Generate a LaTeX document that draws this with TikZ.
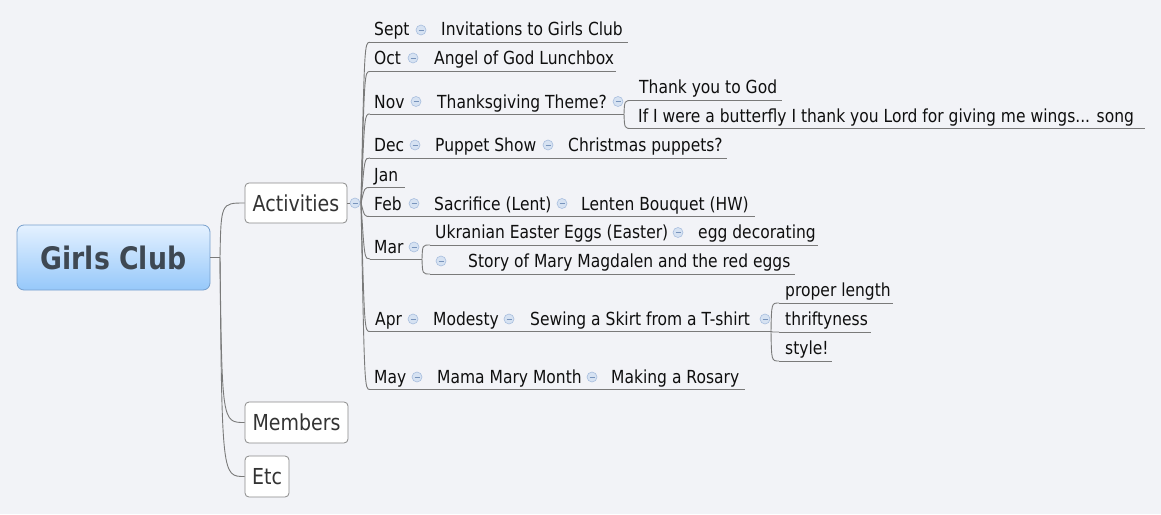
\documentclass[tikz,border=0pt]{standalone}
\usepackage{fontspec}
\setmainfont{DejaVu Sans}[FakeStretch=0.862]
\definecolor{bgc}{RGB}{242,243,247}
\definecolor{linec}{RGB}{122,122,122}
\definecolor{textc}{RGB}{15,15,15}
\definecolor{roottext}{RGB}{62,72,82}
\definecolor{rootborder}{RGB}{120,160,205}
\definecolor{roottop}{RGB}{228,241,255}
\definecolor{rootbot}{RGB}{150,200,250}
\definecolor{boxborder}{RGB}{138,138,138}
\definecolor{icof}{RGB}{214,226,242}
\definecolor{icob}{RGB}{168,190,222}
\definecolor{icom}{RGB}{120,148,188}
\begin{document}
\begin{tikzpicture}[x=1pt,y=-1pt,
  txt/.style={font=\fontsize{18}{21}\selectfont, text=textc, inner sep=0pt, anchor=base west},
  ul/.style={draw=linec, line width=0.9pt},
  conn/.style={draw=linec, line width=0.9pt},
  lvlone/.style={draw=boxborder, fill=white, line width=0.8pt, rounded corners=4pt, inner sep=0pt,
    font=\fontsize{22}{25}\selectfont, text=textc!85!white, minimum height=40pt},
  rootbox/.style={draw=rootborder, line width=0.8pt, rounded corners=7pt, top color=roottop, bottom color=rootbot,
    minimum width=193pt, minimum height=65pt, inner sep=0pt, font=\fontsize{31}{35}\selectfont\bfseries, text=roottext},
  ico/.style={circle, draw=icob, fill=icof, line width=0.6pt, minimum size=10pt, inner sep=0pt,
    path picture={\draw[icom, line width=0.9pt] ([xshift=-2.5pt]path picture bounding box.center) -- ([xshift=2.5pt]path picture bounding box.center);}}
]
\useasboundingbox (0,0) rectangle (1161,514);
\fill[bgc] (0,0) rectangle (1161,514);

% root and level-one topics
\node[rootbox] (root) at (113.5,257.5) {Girls Club};
\node[lvlone, minimum width=102pt] (act) at (296,203) {Activities};
\node[lvlone, minimum width=103pt, minimum height=41pt] (mem) at (296.5,422.5) {Members};
\node[lvlone, minimum width=44pt, minimum height=41pt] (etc) at (267,476.5) {Etc};

\coordinate (jR) at (220,257.5);
\draw[conn] (root.east) -- (jR);
\draw[conn] (jR) .. controls (221,203) .. (act.west);
\draw[conn] (jR) .. controls (222,422.5) .. (mem.west);
\draw[conn] (jR) .. controls (222,476.5) .. (etc.west);

\node[ico] (iact) at (355,203) {};
\draw[conn] (act.east) -- (iact.west);
\coordinate (jA) at (361,203);

% month start/end coordinates
\coordinate (sept-s) at (370,42.3);  \coordinate (sept-e) at (628,42.3);
\coordinate (oct-s) at (370,71.5);   \coordinate (oct-e) at (616,71.5);
\coordinate (nov-s) at (370,114);    \coordinate (nov-e) at (624,114);
\coordinate (dec-s) at (370,158);    \coordinate (dec-e) at (727,158);
\coordinate (jan-s) at (370,187.5);  \coordinate (jan-e) at (405,187.5);
\coordinate (feb-s) at (370,216.5);  \coordinate (feb-e) at (755,216.5);
\coordinate (mar-s) at (370,259);    \coordinate (mar-e) at (422,259);
\coordinate (apr-s) at (370,331.5);  \coordinate (apr-e) at (771,331.5);
\coordinate (may-s) at (370,389.5);  \coordinate (may-e) at (745,389.5);

\foreach \m/\u in {sept/42.3,oct/71.5,nov/114,dec/158,jan/187.5,feb/216.5,mar/259,apr/331.5,may/389.5}{
  \draw[conn] (jA) .. controls (364.5,\u) .. (\m-s);
  \draw[ul] (\m-s) -- (\m-e);
}

% Sept
\node[txt] (sept) at (374,35.5) {Sept};
\node[ico] (isept) at (421,30) {};
\node[txt] (invit) at (441,35.5) {Invitations to Girls Club};
% Oct
\node[txt] (oct) at (374,64.5) {Oct};
\node[ico] (ioct) at (413,58) {};
\node[txt] (angel) at (434,64.5) {Angel of God Lunchbox};
% Nov
\node[txt] (nov) at (374,108) {Nov};
\node[ico] (inov) at (416,101.5) {};
\node[txt] (thanks) at (437,108) {Thanksgiving Theme?};
\node[ico] (ithanks) at (618,101.5) {};
\coordinate (tyg-s) at (632,100.5); \coordinate (tyg-e) at (782,100.5);
\coordinate (bfly-s) at (632,128.5); \coordinate (bfly-e) at (1145,128.5);
\draw[conn] (nov-e) .. controls (624.5,100.5) .. (tyg-s);
\draw[conn] (nov-e) .. controls (624.5,128.5) .. (bfly-s);
\draw[ul] (tyg-s) -- (tyg-e);
\draw[ul] (bfly-s) -- (bfly-e);
\node[txt] (tyg) at (639,93.5) {Thank you to God};
\node[txt] (bfly) at (638,122) {If I were a butterfly I thank you Lord for giving me wings... song};
% Dec
\node[txt] (dec) at (374,151.5) {Dec};
\node[ico] (idec) at (415,145) {};
\node[txt] (puppet) at (435,151.5) {Puppet Show};
\node[ico] (ipuppet) at (548,145) {};
\node[txt] (xmas) at (568,151.5) {Christmas puppets?};
% Jan
\node[txt] (jan) at (374,181) {Jan};
% Feb
\node[txt] (feb) at (374,210) {Feb};
\node[ico] (ifeb) at (414,203.5) {};
\node[txt] (sacr) at (434,210) {Sacrifice (Lent)};
\node[ico] (isacr) at (562,203.5) {};
\node[txt] (lenten) at (581,210) {Lenten Bouquet (HW)};
% Mar
\node[txt] (mar) at (374,253) {Mar};
\node[ico] (imar) at (414,247) {};
\coordinate (ukr-s) at (430,245); \coordinate (ukr-e) at (818,245);
\coordinate (sty-s) at (430,274); \coordinate (sty-e) at (795,274);
\draw[conn] (mar-e) .. controls (422.5,245) .. (ukr-s);
\draw[conn] (mar-e) .. controls (422.5,274) .. (sty-s);
\draw[ul] (ukr-s) -- (ukr-e);
\draw[ul] (sty-s) -- (sty-e);
\node[txt] (ukr) at (435,238.5) {Ukranian Easter Eggs (Easter)};
\node[ico] (iukr) at (678,232.5) {};
\node[txt] (egg) at (698,238.5) {egg decorating};
\node[ico] (iempty) at (441,261) {};
\node[txt] (story) at (468,267.5) {Story of Mary Magdalen and the red eggs};
% Apr
\node[txt] (apr) at (375,325) {Apr};
\node[ico] (iapr) at (413,319) {};
\node[txt] (modesty) at (433,325) {Modesty};
\node[ico] (imod) at (509,319) {};
\node[txt] (sewing) at (530,325) {Sewing a Skirt from a T-shirt};
\node[ico] (isew) at (765,319) {};
\coordinate (pl-s) at (779,303); \coordinate (pl-e) at (893,303);
\coordinate (th-s) at (779,332); \coordinate (th-e) at (871,332);
\coordinate (st-s) at (779,361); \coordinate (st-e) at (832,361);
\draw[conn] (apr-e) .. controls (771.5,303) .. (pl-s);
\draw[conn] (apr-e) .. controls (771.5,332) .. (th-s);
\draw[conn] (apr-e) .. controls (771.5,361) .. (st-s);
\draw[ul] (pl-s) -- (pl-e);
\draw[ul] (th-s) -- (th-e);
\draw[ul] (st-s) -- (st-e);
\node[txt] (pl) at (785,296) {proper length};
\node[txt] (th) at (785,325) {thriftyness};
\node[txt] (st) at (785,354) {style!};
% May
\node[txt] (may) at (374,383) {May};
\node[ico] (imay) at (417,377) {};
\node[txt] (mama) at (437,383) {Mama Mary Month};
\node[ico] (imama) at (592,377) {};
\node[txt] (rosary) at (611,383) {Making a Rosary};
\end{tikzpicture}
\end{document}
